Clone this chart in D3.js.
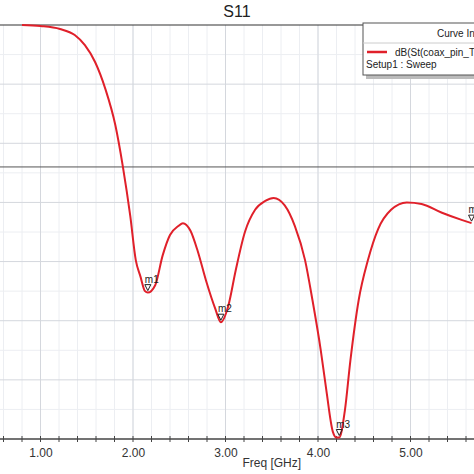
<!DOCTYPE html>
<html>
<head>
<meta charset="utf-8">
<script src="https://cdn.jsdelivr.net/npm/d3@7"></script>
<style>
  body { margin: 0; background: #fff; }
  svg { font-family: "Liberation Sans", Arial, sans-serif; }
</style>
</head>
<body>
<svg id="chart" width="474" height="474"></svg>
<script>
// S11 curve (GHz, dB)
var freq = [0.80, 1.00, 1.21, 1.37, 1.48, 1.59, 1.70, 1.81, 1.89, 1.97, 2.03, 2.08, 2.13, 2.16, 2.24,
            2.32, 2.40, 2.49, 2.54, 2.62, 2.70, 2.79, 2.89, 2.95, 3.03, 3.11, 3.21, 3.32, 3.43, 3.52,
            3.64, 3.75, 3.86, 3.94, 4.03, 4.09, 4.16, 4.20, 4.23, 4.29, 4.35, 4.44, 4.54, 4.65, 4.79,
            4.96, 5.12, 5.34, 5.56, 5.66];
var s11 = [0.0, -0.07, -0.27, -0.68, -1.36, -2.5, -4.3, -6.8, -9.56, -12.9, -15.9, -17.0, -18.0, -18.1, -17.6,
           -15.6, -14.2, -13.6, -13.4, -13.9, -15.3, -17.3, -19.2, -20.1, -19.0, -16.6, -14.0, -12.5, -11.9, -11.7,
           -12.2, -13.6, -15.9, -18.6, -22.0, -24.7, -27.5, -27.9, -27.9, -26.1, -22.7, -18.6, -15.9, -13.8, -12.5,
           -12.0, -12.1, -12.7, -13.2, -13.4];
var markerNames = ["m1", "m2", "m3", "m4"];
var markerFreq = [2.16, 2.95, 4.23, 5.66];
var markerDb = [-18.1, -20.1, -27.9, -13.4];
var xTicks = [1, 2, 3, 4, 5];
var refLineDb = -9.6;

var svg = d3.select("#chart");
var plotTop = 25, plotBottom = 439;

var x = d3.scaleLinear().domain([1, 5]).range([40.5, 410.5]);
var y = d3.scaleLinear().domain([0, -28]).range([plotTop, plotBottom]);

// minor grid
var g = svg.append("g");
g.selectAll(".vmin").data(d3.range(0.6, 5.8, 0.2)).enter().append("line")
  .attr("x1", d => x(d)).attr("x2", d => x(d)).attr("y1", plotTop).attr("y2", plotBottom)
  .attr("stroke", "#eceef2").attr("stroke-width", 1);
g.selectAll(".hmin").data(d3.range(-2, -28, -4)).enter().append("line")
  .attr("x1", 0).attr("x2", 474).attr("y1", d => y(d)).attr("y2", d => y(d))
  .attr("stroke", "#eceef2").attr("stroke-width", 1);
// major grid
g.selectAll(".vmaj").data(d3.range(1, 6, 1)).enter().append("line")
  .attr("x1", d => x(d)).attr("x2", d => x(d)).attr("y1", plotTop).attr("y2", plotBottom)
  .attr("stroke", "#d4d7dd").attr("stroke-width", 1);
g.selectAll(".hmaj").data(d3.range(-4, -28, -4)).enter().append("line")
  .attr("x1", 0).attr("x2", 474).attr("y1", d => y(d)).attr("y2", d => y(d))
  .attr("stroke", "#d4d7dd").attr("stroke-width", 1);

// reference line and frame
svg.append("line").attr("x1", 0).attr("x2", 474).attr("y1", y(refLineDb)).attr("y2", y(refLineDb))
  .attr("stroke", "#555").attr("stroke-width", 1);
svg.append("line").attr("x1", 0).attr("x2", 474).attr("y1", plotTop).attr("y2", plotTop)
  .attr("stroke", "#333").attr("stroke-width", 1.2);

// x axis
var xAxis = d3.axisBottom(x).tickValues(xTicks).tickFormat(d3.format(".2f")).tickSize(0).tickPadding(9);
var ax = svg.append("g").attr("transform", "translate(0," + plotBottom + ")").call(xAxis);
ax.select(".domain").remove();
ax.selectAll("text").attr("font-size", 12).attr("fill", "#333");
svg.append("line").attr("x1", 0).attr("x2", 474).attr("y1", plotBottom).attr("y2", plotBottom)
  .attr("stroke", "#444").attr("stroke-width", 1.5);
svg.selectAll(".tk").data(d3.range(0.6, 5.8, 0.2)).enter().append("line")
  .attr("x1", d => x(d)).attr("x2", d => x(d)).attr("y1", plotBottom - 3).attr("y2", plotBottom + 3)
  .attr("stroke", "#444");
svg.append("text").attr("x", x(3.5)).attr("y", 467).attr("text-anchor", "middle")
  .attr("font-size", 12).attr("fill", "#333").text("Freq [GHz]");

// title
svg.append("text").attr("x", 237).attr("y", 17).attr("text-anchor", "middle")
  .attr("font-size", 16).attr("fill", "#222").text("S11");

// curve
var line = d3.line().x((d, i) => x(freq[i])).y(d => y(d)).curve(d3.curveMonotoneX);
svg.append("path").datum(s11).attr("d", line)
  .attr("fill", "none").attr("stroke", "#e0202a").attr("stroke-width", 2);

// markers
markerNames.forEach(function(name, i) {
  var mx = x(markerFreq[i]), my = y(markerDb[i]);
  svg.append("path").attr("d", "M" + (mx - 3) + "," + (my - 8) + "L" + (mx + 3) + "," + (my - 8) + "L" + mx + "," + (my - 2) + "Z")
    .attr("fill", "none").attr("stroke", "#222").attr("stroke-width", 1);
  svg.append("text").attr("x", mx - 3).attr("y", my - 10).attr("font-size", 10).attr("fill", "#222").text(name);
});

// legend
var lg = svg.append("g").attr("transform", "translate(363,23)");
lg.append("rect").attr("x", 3).attr("y", 3).attr("width", 140).attr("height", 53).attr("fill", "#bbb");
lg.append("rect").attr("x", 0).attr("y", 0).attr("width", 140).attr("height", 52)
  .attr("fill", "#fff").attr("stroke", "#555");
lg.append("text").attr("x", 74).attr("y", 14).attr("font-size", 10).attr("fill", "#222").text("Curve Info");
lg.append("line").attr("x1", 0).attr("x2", 140).attr("y1", 20).attr("y2", 20).attr("stroke", "#ccc");
lg.append("line").attr("x1", 4).attr("x2", 24).attr("y1", 29).attr("y2", 29)
  .attr("stroke", "#e0202a").attr("stroke-width", 2.5);
lg.append("text").attr("x", 32).attr("y", 33).attr("font-size", 10).attr("fill", "#222").text("dB(St(coax_pin_T1,coax_pin_T1))");
lg.append("text").attr("x", 3).attr("y", 45).attr("font-size", 10).attr("fill", "#222").text("Setup1 : Sweep");
</script>
</body>
</html>
